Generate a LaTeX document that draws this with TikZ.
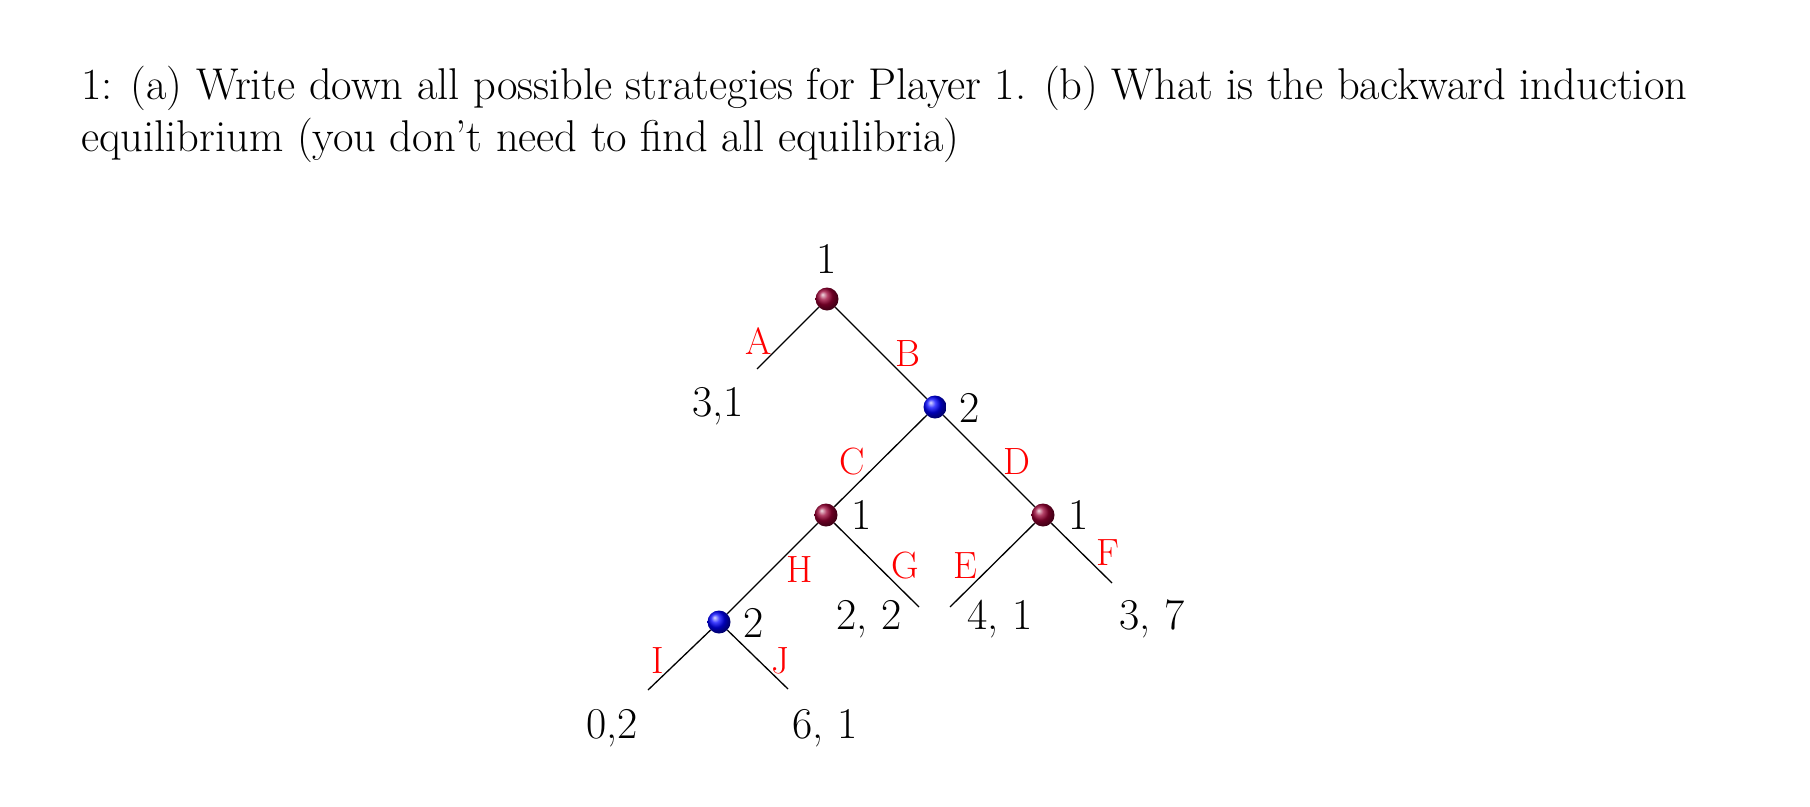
\documentclass[tikz,border=0pt]{standalone}
\begin{document}
\begin{tikzpicture}[x=1pt,y=-1pt,
  p1/.style={circle,minimum size=23pt,inner sep=0pt,ball color=purple!80!black},
  p2/.style={circle,minimum size=23pt,inner sep=0pt,ball color=blue},
  pay/.style={font=\fontsize{44}{50}\selectfont},
  act/.style={text=red,font=\fontsize{38}{44}\selectfont},
  br/.style={line width=1.3pt}]
\useasboundingbox (0,0) rectangle (1810,806);
\node[anchor=base west,font=\fontsize{44.5}{50}\selectfont,inner sep=0pt] (t1) at (81,99) {1: (a) Write down all possible strategies for Player 1. (b) What is the backward induction};
\node[anchor=base west,font=\fontsize{44.5}{50}\selectfont,inner sep=0pt] (t2) at (81,151) {equilibrium (you don't need to find all equilibria)};
\node[p1] (r) at (827,299) {};
\node[p2] (n2) at (935,407) {};
\node[p1] (n1l) at (826,515) {};
\node[p1] (n1r) at (1043,515) {};
\node[p2] (n2b) at (719,622) {};
\coordinate (ea) at (757,369);
\coordinate (eg) at (919,607);
\coordinate (ee) at (950,607);
\coordinate (ef) at (1112,583);
\coordinate (ei) at (648,690);
\coordinate (ej) at (788,689);
\draw[br] (r) -- (ea); \draw[br] (r) -- (n2);
\draw[br] (n2) -- (n1l); \draw[br] (n2) -- (n1r);
\draw[br] (n1l) -- (n2b); \draw[br] (n1l) -- (eg);
\draw[br] (n1r) -- (ee); \draw[br] (n1r) -- (ef);
\draw[br] (n2b) -- (ei); \draw[br] (n2b) -- (ej);
\node[pay] (lr) at (827,259) {1};
\node[pay] (l2) at (970,408) {2};
\node[pay] (l1l) at (862,515) {1};
\node[pay] (l1r) at (1079,515) {1};
\node[pay] (l2b) at (754,623) {2};
\node[pay] (p31) at (718,406) {3,1};
\node[pay] (p22) at (869,619) {2, 2};
\node[pay] (p41) at (1000,619) {4, 1};
\node[pay] (p37) at (1152,619) {3, 7};
\node[pay] (p02) at (612,728) {0,2};
\node[pay] (p61) at (825,728) {6, 1};
\node[act] (A) at (759,341) {A};
\node[act] (B) at (908,354) {B};
\node[act] (C) at (852,462) {C};
\node[act] (D) at (1017,462) {D};
\node[act] (H) at (800,570) {H};
\node[act] (G) at (905,566) {G};
\node[act] (E) at (965,566) {E};
\node[act] (F) at (1108,553) {F};
\node[act] (I) at (658,661) {I};
\node[act] (J) at (780,661) {J};
\end{tikzpicture}
\end{document}
